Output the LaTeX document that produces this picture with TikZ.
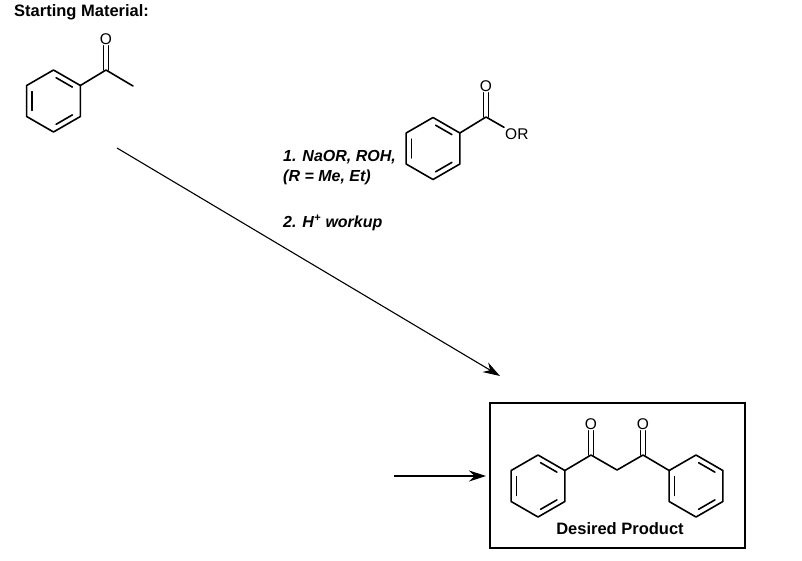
\documentclass[tikz,border=0pt]{standalone}
\usepackage{fontspec}
\setmainfont{Liberation Sans}
\usetikzlibrary{calc,arrows.meta}
\tikzset{bond/.style={line width=1.6pt,line cap=round,line join=round},
 lbl/.style={font=\fontsize{16}{18}\selectfont\bfseries\itshape,anchor=west,inner sep=0},
 atom/.style={font=\fontsize{15.5}{16}\selectfont,inner sep=1pt},
 rxn/.style={line width=1.1pt,-{Stealth[length=17pt,width=11pt]}}}
\newcommand\benzring[2]{% center name, center coordinate
 \coordinate (#1) at #2;
 \foreach \a/\n in {-90/t,-30/ur,30/lr,90/b,150/ll,-150/ul}{\coordinate (#1\n) at ($(#1)+(\a:31)$);}
 \draw[bond] (#1t)--(#1ur)--(#1lr)--(#1b)--(#1ll)--(#1ul)--cycle;
 \foreach \p/\q in {t/ur,ul/ll,b/lr}{\draw[bond,shorten <=3pt,shorten >=3pt] ($(#1)!0.8!(#1\p)$)--($(#1)!0.8!(#1\q)$);}
}
\begin{document}
\begin{tikzpicture}[x=1pt,y=-1pt]
\useasboundingbox (0,0) rectangle (802,560);
\node[font=\fontsize{16.5}{18}\selectfont\bfseries,anchor=west,inner sep=0] (title) at (14,12) {Starting Material:};
% starting material
\benzring{A}{(53.5,101)}
\coordinate (Ac) at (106,70);
\node[atom] (AO) at (106,39) {O};
\coordinate (Am) at (133,86);
\draw[bond] (Aur)--(Ac)--(Am);
\draw[bond] ($(Ac)+(-2.5,0)$)--($(AO.south)+(-2.5,0)$) ($(Ac)+(2.5,0)$)--($(AO.south)+(2.5,0)$);
% ester
\benzring{E}{(433,148.5)}
\coordinate (Ec) at (486,117);
\node[atom] (EO) at (486,86) {O};
\node[atom,anchor=west] (EOR) at (504,134) {OR};
\draw[bond] (Eur)--(Ec)--(EOR.north west);
\draw[bond] ($(Ec)+(-2.5,0)$)--($(EO.south)+(-2.5,0)$) ($(Ec)+(2.5,0)$)--($(EO.south)+(2.5,0)$);
\node[lbl] (l1) at (283,157) {1. NaOR, ROH,};
\node[lbl] (l2) at (283,177) {(R = Me, Et)};
\node[lbl] (l3) at (283,223) {2. H\textsuperscript{+} workup};
% arrows
\coordinate (a1s) at (117,148); \coordinate (a1e) at (500,376);
\draw[rxn] (a1s)--(a1e);
\coordinate (a2s) at (394,476); \coordinate (a2e) at (486,476);
\draw[rxn] (a2s)--(a2e);
% product
\draw[line width=2.5pt] (490,403) rectangle (745,548);
\benzring{P}{(538,486)}
\benzring{Q}{(696,486)}
\coordinate (C1) at (591,455); \coordinate (CH) at (617,470); \coordinate (C2) at (643,455);
\node[atom] (O1) at (591,424) {O};
\node[atom] (O2) at (643,424) {O};
\draw[bond] (Pur)--(C1)--(CH)--(C2)--(Qul);
\foreach \c/\o in {C1/O1,C2/O2}{\draw[bond] ($(\c)+(-2.5,0)$)--($(\o.south)+(-2.5,0)$) ($(\c)+(2.5,0)$)--($(\o.south)+(2.5,0)$);}
\node[font=\fontsize{16.5}{18}\selectfont\bfseries,inner sep=0] (dp) at (620,529) {Desired Product};
\end{tikzpicture}
\end{document}
